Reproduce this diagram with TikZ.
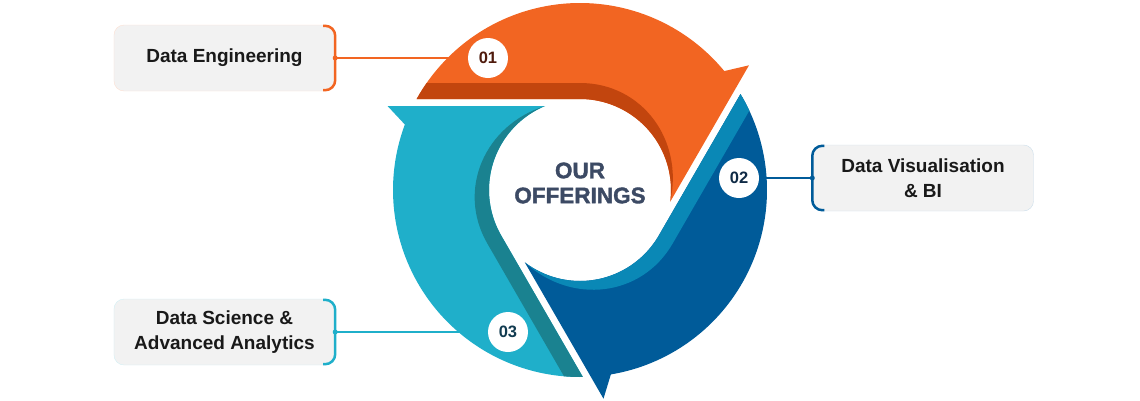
\documentclass[tikz,border=0pt]{standalone}
\usepackage{fontspec}
\setmainfont{Liberation Sans}
\newfontfamily\heavyfont{Liberation Sans}[BoldFeatures={FakeBold=1.6}]
\usetikzlibrary{backgrounds}
\definecolor{orgmain}{HTML}{F26522}
\definecolor{orgband}{HTML}{C2450E}
\definecolor{bluemain}{HTML}{005B99}
\definecolor{blueband}{HTML}{0A88B6}
\definecolor{cyanmain}{HTML}{1FAFCA}
\definecolor{cyanband}{HTML}{1A8290}
\definecolor{boxgray}{HTML}{F2F2F2}
\definecolor{titlecol}{HTML}{3C4A64}
\definecolor{numone}{HTML}{4F1A0C}
\definecolor{numtwo}{HTML}{0F2A45}
\definecolor{numthree}{HTML}{113B50}
\begin{document}
\begin{tikzpicture}[x=1pt,y=1pt,font=\bfseries,
	card/.style={fill=boxgray,rounded corners=10pt,minimum width=221pt,minimum height=66pt,align=center,text=black!90,font=\fontsize{19}{25}\selectfont\bfseries},
	badge/.style={circle,fill=white,minimum size=40pt,inner sep=0pt,font=\fontsize{16.5}{16.5}\selectfont\bfseries},
	bracket/.style={line width=2.5pt,rounded corners=10pt},
	link/.style={line width=1.6pt}]
	\useasboundingbox (-580,-210) rectangle (560,190);
	% the three curved arrows
	\foreach \ang/\cmain/\cband in {0/orgmain/orgband,-120/bluemain/blueband,120/cyanmain/cyanband}{
		\begin{scope}[rotate=\ang]
			\fill[\cmain] (150.88:187) arc[start angle=150.88,end angle=39.5,radius=187] -- (168.98,124.68) -- (90.24,-11.69) arc[start angle=-7.38,end angle=90,radius=91] -- cycle;
			\fill[\cband] (150.88:187) -- (0,91) arc[start angle=90,end angle=-7.38,radius=91] .. controls (104,50) and (62,107) .. (0,107) -- (145.1:187) arc[start angle=145.1,end angle=150.88,radius=187] -- cycle;
		\end{scope}
	}
	\node[text=titlecol,align=center,font=\fontsize{22.5}{25}\selectfont\heavyfont\bfseries] (title) at (0,7) {OUR\\OFFERINGS};
	% badges
	\node[badge,text=numone] (n1) at (-92,132) {01};
	\node[badge,text=numtwo] (n2) at (159,12) {02};
	\node[badge,text=numthree] (n3) at (-72,-142) {03};
	% cards
	\node[card,draw=orgmain!20] (b1) at (-355.5,132) {Data Engineering};
	\node[card,draw=bluemain!20] (b2) at (343,12) {Data Visualisation\\\& BI};
	\node[card,draw=cyanmain!20] (b3) at (-355.5,-142) {Data Science \&\\Advanced Analytics};
	\draw[bracket,orgmain] ([xshift=-12pt,yshift=-1pt]b1.north east) -- ([yshift=-1pt]b1.north east) -- ([yshift=1pt]b1.south east) -- ([xshift=-12pt,yshift=1pt]b1.south east);
	\draw[bracket,bluemain] ([xshift=12pt,yshift=-1pt]b2.north west) -- ([yshift=-1pt]b2.north west) -- ([yshift=1pt]b2.south west) -- ([xshift=12pt,yshift=1pt]b2.south west);
	\draw[bracket,cyanmain] ([xshift=-12pt,yshift=-1pt]b3.north east) -- ([yshift=-1pt]b3.north east) -- ([yshift=1pt]b3.south east) -- ([xshift=-12pt,yshift=1pt]b3.south east);
	\begin{scope}[on background layer]
		\draw[link,orgmain] (b1.east) -- (n1);
		\draw[link,bluemain] (n2) -- (b2.west);
		\draw[link,cyanmain] (b3.east) -- (n3);
	\end{scope}
	\fill[orgmain] (b1.east) circle (2.5pt);
	\fill[bluemain] (b2.west) circle (2.5pt);
	\fill[cyanmain] (b3.east) circle (2.5pt);
\end{tikzpicture}
\end{document}
